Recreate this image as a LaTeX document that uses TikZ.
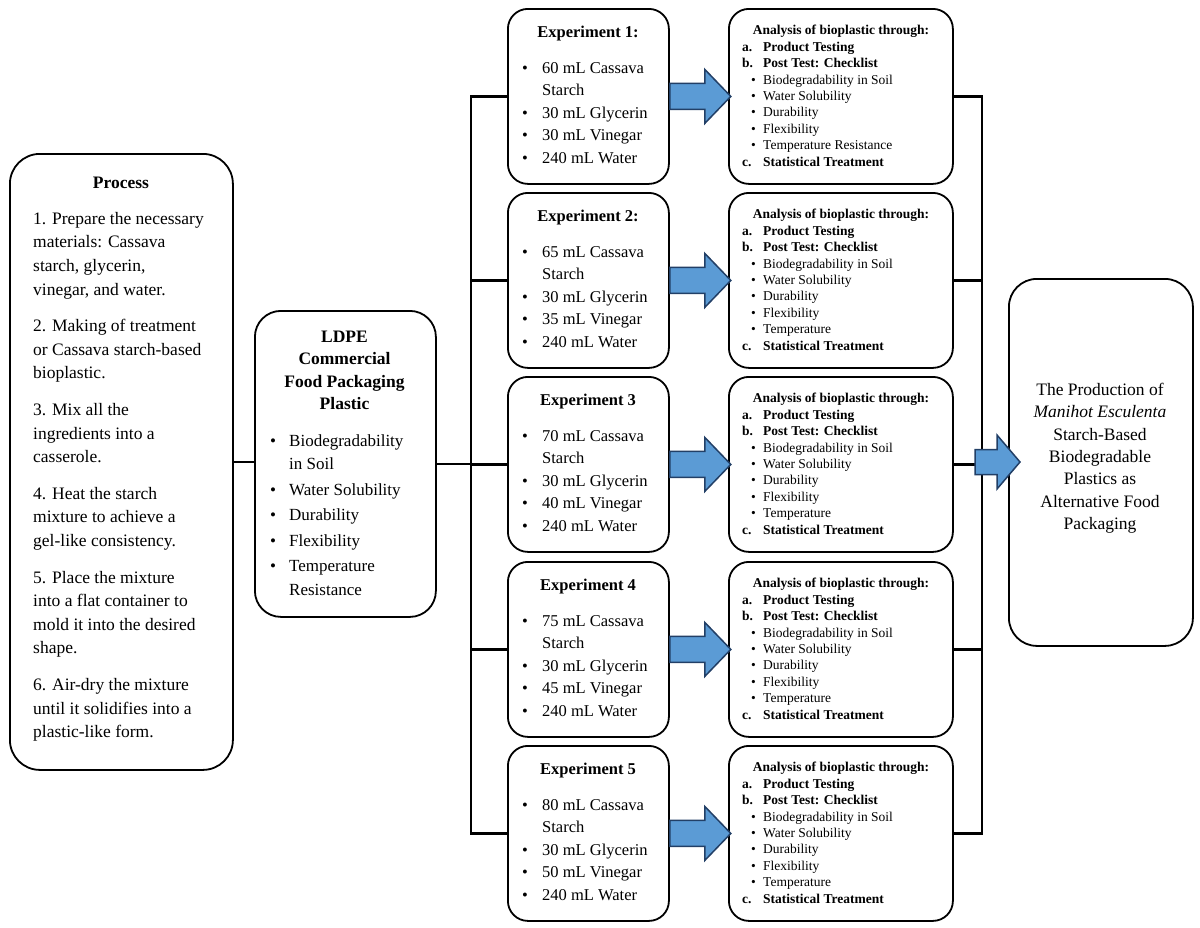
\documentclass[tikz,border=0pt]{standalone}
\usepackage{fontspec}
\setmainfont{Liberation Serif}
\definecolor{arrowfill}{HTML}{5B9BD5}
\definecolor{arrowedge}{HTML}{223F66}
\tikzset{
  rbox/.style={draw=black, line width=1.8pt, fill=white, inner sep=0pt, anchor=north west},
  conn/.style={line width=2.6pt, line join=miter},
  barrow/.style={fill=arrowfill, draw=arrowedge, line width=1.5pt, line join=miter},
  txt/.style={inner sep=0pt, anchor=north west, align=left},
  ctxt/.style={inner sep=0pt, anchor=base, align=center},
  ntxt/.style={inner sep=0pt, anchor=north, align=center},
  bigfont/.style={font=\fontsize{17.5}{23.6}\selectfont},
  expfont/.style={font=\fontsize{16.5}{22.5}\selectfont},
  anafont/.style={font=\fontsize{13.5}{16.4}\selectfont},
}
\newcommand{\fl}[1]{\rule{0pt}{#1}}
\newcommand{\bl}[1]{\makebox[20pt][l]{\textbullet}#1}
\newcommand{\ab}[2]{\makebox[21pt][l]{\textbf{#1}}\textbf{#2}}
\newcommand{\ib}[1]{\hspace*{9pt}\makebox[12pt][l]{\textbullet}#1}
\begin{document}
\begin{tikzpicture}[x=1pt, y=-1pt]
\useasboundingbox (0,0) rectangle (1200,927);

% junction coordinates
\coordinate (jl) at (471,462);
\coordinate (jr) at (982,462);

% boxes
\node[rbox, rounded corners=30pt, minimum width=223pt, minimum height=616pt] (proc) at (9,153) {};
\node[rbox, rounded corners=26pt, minimum width=181pt, minimum height=306pt] (ldpe) at (254,310) {};
\foreach \i/\t in {1/8, 2/192, 3/376, 4/561, 5/745} {
  \node[rbox, rounded corners=20pt, minimum width=161pt, minimum height=175pt] (e\i) at (507,\t) {};
  \node[rbox, rounded corners=20pt, minimum width=224pt, minimum height=175pt] (a\i) at (728,\t) {};
}
\node[rbox, rounded corners=28pt, minimum width=184pt, minimum height=367pt] (fin) at (1008,278) {};

% connectors
\draw[conn] (proc.east) -- (proc.east -| ldpe.west);
\draw[conn] (ldpe.east) -- (ldpe.east -| jl);
\draw[conn] (e1.west) -| (jl) |- (e5.west);
\foreach \i in {2,3,4} { \draw[conn] (e\i.west) -- (e\i.west -| jl); }
\draw[conn] (a1.east) -| (jr) |- (a5.east);
\foreach \i in {2,3,4} { \draw[conn] (a\i.east) -- (a\i.east -| jr); }

% block arrows
\foreach \i in {1,...,5} {
  \draw[barrow] (e\i.east) ++(0,-13) -- ++(35,0) -- ++(0,-14) -- ++(26,27) -- ++(-26,27) -- ++(0,-14) -- ++(-35,0) -- cycle;
}
\draw[barrow] ([xshift=-7pt]jr) ++(0,-12.5) -- ++(22,0) -- ++(0,-14.5) -- ++(23,27) -- ++(-23,27) -- ++(0,-14.5) -- ++(-22,0) -- cycle;

% Process text
\node[ctxt, bigfont] (proct) at ([shift={(112,35)}]proc.north west) {\textbf{Process}};
\node[txt, bigfont] (procl) at ([shift={(24,56)}]proc.north west) {%
\fl{15pt}1. Prepare the necessary\\materials: Cassava\\starch, glycerin,\\vinegar, and water.\\[13pt]
2. Making of treatment\\or Cassava starch-based\\bioplastic.\\[13pt]
3. Mix all the\\ingredients into a\\casserole.\\[13pt]
4. Heat the starch\\mixture to achieve a\\gel-like consistency.\\[13pt]
5. Place the mixture\\into a flat container to\\mold it into the desired\\shape.\\[13pt]
6. Air-dry the mixture\\until it solidifies into a\\plastic-like form.};

% LDPE text
\node[ntxt, font=\fontsize{17.5}{22.5}\selectfont] (ldpet) at ([shift={(90.5,17)}]ldpe.north west) {\fl{15pt}\textbf{LDPE}\\\textbf{Commercial}\\\textbf{Food Packaging}\\\textbf{Plastic}};
\node[txt, font=\fontsize{17}{23.5}\selectfont] (ldpel) at ([shift={(16,121)}]ldpe.north west) {%
\fl{15pt}\makebox[19pt][l]{\textbullet}Biodegradability\\\hspace*{19pt}in Soil\\[2pt]
\makebox[19pt][l]{\textbullet}Water Solubility\\[2pt]
\makebox[19pt][l]{\textbullet}Durability\\[2pt]
\makebox[19pt][l]{\textbullet}Flexibility\\[2pt]
\makebox[19pt][l]{\textbullet}Temperature\\\hspace*{19pt}Resistance};

% Experiment texts
\foreach \i/\ttl/\cs/\vg in {1/Experiment 1:/60/30, 2/Experiment 2:/65/35, 3/Experiment 3/70/40, 4/Experiment 4/75/45, 5/Experiment 5/80/50} {
  \node[ctxt, expfont] (et\i) at ([shift={(81,29)}]e\i.north west) {\textbf{\ttl}};
  \node[txt, expfont] (el\i) at ([shift={(15,51)}]e\i.north west) {%
\fl{14pt}\bl{\cs\ mL Cassava}\\\hspace*{20pt}Starch\\\bl{30 mL Glycerin}\\\bl{\vg\ mL Vinegar}\\\bl{240 mL Water}};
}

% Analysis texts
\foreach \i/\last in {1/Temperature Resistance, 2/Temperature, 3/Temperature, 4/Temperature, 5/Temperature} {
  \node[ctxt, anafont] (at\i) at ([shift={(113,26)}]a\i.north west) {\textbf{Analysis of bioplastic through:}};
  \node[txt, anafont] (al\i) at ([shift={(14,31)}]a\i.north west) {%
\fl{12pt}\ab{a.}{Product Testing}\\\ab{b.}{Post Test: Checklist}\\
\ib{Biodegradability in Soil}\\\ib{Water Solubility}\\\ib{Durability}\\\ib{Flexibility}\\\ib{\last}\\
\ab{c.}{Statistical Treatment}};
}

% Final text
\node[ntxt, font=\fontsize{17.5}{22.4}\selectfont] (fint) at ([shift={(92,102)}]fin.north west) {%
\fl{15pt}The Production of\\\textit{Manihot Esculenta}\\Starch-Based\\Biodegradable\\Plastics as\\Alternative Food\\Packaging};
\end{tikzpicture}
\end{document}
